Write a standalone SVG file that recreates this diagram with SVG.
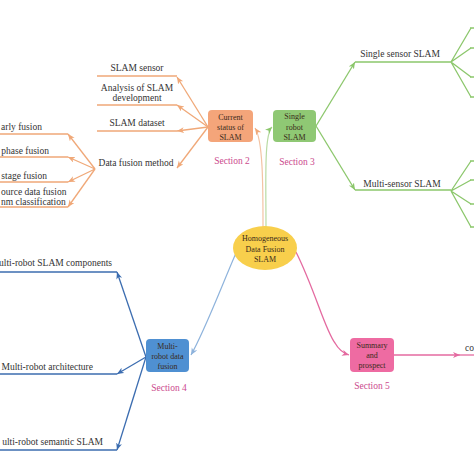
<svg xmlns="http://www.w3.org/2000/svg" width="474" height="474" viewBox="0 0 474 474" font-family="'Liberation Serif', 'DejaVu Serif', serif">
<defs>
<style>
text{font-family:"Liberation Serif","DejaVu Serif",serif}
.t{font-size:9.5px;fill:#333}
.b{font-size:8px;fill:#3a2a1a;text-anchor:middle}
.s{font-size:9.5px;fill:#cc4a8e;text-anchor:middle}
.m{text-anchor:middle}
.e{text-anchor:end}
.o{stroke:#f0a878;stroke-width:1.3;fill:none}
.g{stroke:#8cc76c;stroke-width:1.3;fill:none}
.bl{stroke:#3c6db0;stroke-width:1.3;fill:none}
.p{stroke:#e46aa0;stroke-width:1.3;fill:none}
</style>
<marker id="ao" markerWidth="8" markerHeight="8" refX="7" refY="3" orient="auto" markerUnits="userSpaceOnUse"><path d="M0,0 L7,3 L0,6 L2,3 Z" fill="#f0a878"/></marker>
<marker id="ag" markerWidth="8" markerHeight="8" refX="7" refY="3" orient="auto" markerUnits="userSpaceOnUse"><path d="M0,0 L7,3 L0,6 L2,3 Z" fill="#8cc76c"/></marker>
<marker id="ab" markerWidth="8" markerHeight="8" refX="7" refY="3" orient="auto" markerUnits="userSpaceOnUse"><path d="M0,0 L7,3 L0,6 L2,3 Z" fill="#3c6db0"/></marker>
<marker id="alb" markerWidth="8" markerHeight="8" refX="7" refY="3" orient="auto" markerUnits="userSpaceOnUse"><path d="M0,0 L7,3 L0,6 L2,3 Z" fill="#8eb3dc"/></marker>
<marker id="ap" markerWidth="8" markerHeight="8" refX="7" refY="3" orient="auto" markerUnits="userSpaceOnUse"><path d="M0,0 L7,3 L0,6 L2,3 Z" fill="#e46aa0"/></marker>
</defs>
<rect width="474" height="474" fill="#fff"/>
<g id="connectors">
<path d="M263,227 C263,185 263,140 255,128" stroke="#f3c3a3" stroke-width="1.2" fill="none" marker-end="url(#ao)"/>
<path d="M266,227 C266,180 264,135 272,127" stroke="#b9dba4" stroke-width="1.2" fill="none" marker-end="url(#ag)"/>
<path d="M236,253 C220,290 205,330 191,355" stroke="#8eb3dc" stroke-width="1.2" fill="none" marker-end="url(#alb)"/>
<path d="M296,252 C315,290 325,330 335,343 Q340,352 349,355" class="p" marker-end="url(#ap)"/>
<path d="M208,127 L177,77" class="o" marker-end="url(#ao)"/>
<path d="M208,127 L177,105" class="o" marker-end="url(#ao)"/>
<path d="M208,127 L177,131" class="o" marker-end="url(#ao)"/>
<path d="M208,127 L177,168" class="o" marker-end="url(#ao)"/>
<path d="M97,76 H177 M97,105 H177 M97,131 H177" class="o"/>
<path d="M95,169 L68,134" class="o" marker-end="url(#ao)"/>
<path d="M95,169 L68,157" class="o" marker-end="url(#ao)"/>
<path d="M95,169 L68,182" class="o" marker-end="url(#ao)"/>
<path d="M95,169 L68,207" class="o" marker-end="url(#ao)"/>
<path d="M-5,134 H68 M-5,157 H68 M-5,182 H68 M-5,207 H68" class="o"/>
<path d="M316,126 L355,62" class="g" marker-end="url(#ag)"/>
<path d="M316,126 L355,190" class="g" marker-end="url(#ag)"/>
<path d="M355,62 H451 M355,190 H451" class="g"/>
<path d="M451,62 L471,28 M451,62 L471,48 M451,62 L471,77 M451,62 L471,97" class="g"/>
<path d="M451,191 L471,161 M451,191 L471,180 M451,191 L471,204 M451,191 L471,227" class="g"/>
<path d="M470,28 H480 M470,48 H480 M470,77 H480 M470,97 H480 M470,161 H480 M470,180 H480 M470,204 H480 M470,227 H480" class="g"/>
<path d="M146,357 L117,272" class="bl" marker-end="url(#ab)"/>
<path d="M146,357 L117,374" class="bl" marker-end="url(#ab)"/>
<path d="M146,357 L117,450" class="bl" marker-end="url(#ab)"/>
<path d="M-5,272 H117 M-5,374 H117 M-5,450 H117" class="bl"/>
<path d="M394,355 H460" class="p" marker-end="url(#ap)"/>
<path d="M460,355 H480" class="p"/>
</g>
<g id="center">
<ellipse cx="265" cy="248" rx="32" ry="22" fill="#f8cf4c"/>
<text class="b" x="265" y="241">Homogeneous</text>
<text class="b" x="265" y="251.5">Data Fusion</text>
<text class="b" x="265" y="262">SLAM</text>
</g>
<g id="current-status">
<rect x="208" y="110" width="45" height="32" rx="4" fill="#f4a57a"/>
<text class="b" x="230.5" y="120">Current</text>
<text class="b" x="230.5" y="130">status of</text>
<text class="b" x="230.5" y="140">SLAM</text>
<text class="s" x="232" y="164">Section 2</text>
</g>
<g id="single-robot">
<rect x="273" y="110" width="43" height="32" rx="4" fill="#8fc874"/>
<text class="b" x="294.5" y="119">Single</text>
<text class="b" x="294.5" y="129.5">robot</text>
<text class="b" x="294.5" y="140">SLAM</text>
<text class="s" x="297" y="165">Section 3</text>
</g>
<g id="multi-robot">
<rect x="146" y="339" width="43" height="33" rx="4" fill="#4f90d2"/>
<text class="b" x="167.5" y="349">Multi-</text>
<text class="b" x="167.5" y="359">robot data</text>
<text class="b" x="167.5" y="369">fusion</text>
<text class="s" x="169" y="391">Section 4</text>
</g>
<g id="summary">
<rect x="350" y="338" width="44" height="34" rx="4" fill="#ee6ba2"/>
<text class="b" x="372" y="348">Summary</text>
<text class="b" x="372" y="358">and</text>
<text class="b" x="372" y="368">prospect</text>
<text class="s" x="372" y="389">Section 5</text>
</g>
<g id="leaf-slam-sensor"><text class="t m" x="137" y="71">SLAM sensor</text></g>
<g id="leaf-analysis"><text class="t m" x="137" y="91">Analysis of SLAM</text><text class="t m" x="137" y="101">development</text></g>
<g id="leaf-dataset"><text class="t m" x="137" y="126">SLAM dataset</text></g>
<g id="leaf-data-fusion"><text class="t m" x="136" y="166">Data fusion method</text></g>
<g id="leaf-early"><text class="t" x="1" y="130">arly fusion</text></g>
<g id="leaf-multiphase"><text class="t e" x="49" y="154">phase fusion</text></g>
<g id="leaf-stage"><text class="t e" x="47" y="179">stage fusion</text></g>
<g id="leaf-multisource"><text class="t" x="1" y="195">ource data fusion</text><text class="t" x="1" y="205">nm classification</text></g>
<g id="leaf-single-sensor"><text class="t m" x="400" y="57">Single sensor SLAM</text></g>
<g id="leaf-multi-sensor"><text class="t m" x="402" y="187">Multi-sensor SLAM</text></g>
<g id="leaf-components"><text class="t e" x="112" y="266">ulti-robot SLAM components</text></g>
<g id="leaf-architecture"><text class="t e" x="93" y="370">Multi-robot architecture</text></g>
<g id="leaf-semantic"><text class="t e" x="103" y="445">ulti-robot semantic SLAM</text></g>
<g id="leaf-conclusion"><text class="t" x="465" y="351">co</text></g>
</svg>
